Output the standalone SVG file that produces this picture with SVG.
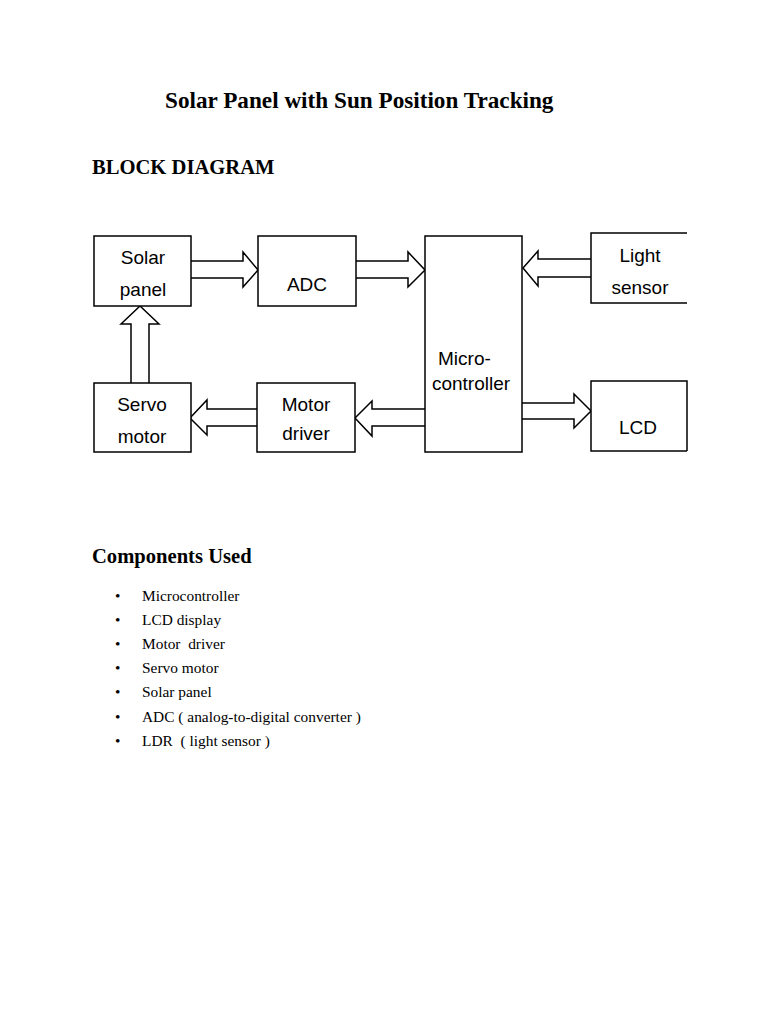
<svg xmlns="http://www.w3.org/2000/svg" width="768" height="1024" viewBox="0 0 768 1024">
<style>
.box{fill:#fff;stroke:#000;stroke-width:1.5}
.arr{fill:#fff;stroke:#000;stroke-width:1.5;stroke-linejoin:miter}
.bt{font-family:"Liberation Sans",Arial,sans-serif;font-size:19px;fill:#000;text-anchor:middle}
.h{font-family:"Liberation Serif","Times New Roman",serif;font-weight:bold;fill:#000}
.li{font-family:"Liberation Serif","Times New Roman",serif;font-size:15.4px;fill:#000}
</style>
<rect width="768" height="1024" fill="#fff"/>
<text class="h" x="165" y="108" font-size="23.2">Solar Panel with Sun Position Tracking</text>
<text class="h" x="92" y="174" font-size="20.6">BLOCK DIAGRAM</text>
<g id="connectors">
<path class="arr" d="M191,261 H243 V252 L258,270 L243,287 V278 H191"/>
<path class="arr" d="M356,261 H408 V252 L425,270 L408,287 V278 H356"/>
<path class="arr" d="M591,259 H538 V251 L523,268 L538,286 V277 H591"/>
<path class="arr" d="M522,403 H574 V394 L591,411 L574,428 V419 H522"/>
<path class="arr" d="M425,409 H372 V401 L355,418 L372,436 V426 H425"/>
<path class="arr" d="M257,409 H207 V400 L190,418 L207,435 V426 H257"/>
<path class="arr" d="M131,383 V324 H121 L140,306 L159,324 H149 V383"/>
</g>
<g id="solar-panel"><rect class="box" x="94" y="236" width="97" height="70"/><text class="bt" x="143" y="264">Solar</text><text class="bt" x="143" y="296">panel</text></g>
<g id="adc"><rect class="box" x="258" y="236" width="98" height="70"/><text class="bt" x="307" y="291">ADC</text></g>
<g id="microcontroller"><rect class="box" x="425" y="236" width="97" height="216"/><text class="bt" x="438" y="365" style="text-anchor:start">Micro-</text><text class="bt" x="471" y="390">controller</text></g>
<g id="light-sensor"><path class="box" d="M687,233 H591 V303 H687"/><text class="bt" x="640" y="262">Light</text><text class="bt" x="640" y="294">sensor</text></g>
<g id="lcd"><path class="box" d="M687,451 H591 V381 H687 V451"/><text class="bt" x="638" y="434">LCD</text></g>
<g id="servo-motor"><rect class="box" x="94" y="383" width="97" height="69"/><text class="bt" x="142" y="411">Servo</text><text class="bt" x="142" y="443">motor</text></g>
<g id="motor-driver"><rect class="box" x="257" y="383" width="98" height="69"/><text class="bt" x="306" y="411">Motor</text><text class="bt" x="306" y="440">driver</text></g>
<text class="h" x="92" y="563" font-size="20.6">Components Used</text>
<g class="li">
<text x="115" y="601">•</text><text x="142" y="601">Microcontroller</text>
<text x="115" y="625">•</text><text x="142" y="625">LCD display</text>
<text x="115" y="649">•</text><text x="142" y="649" xml:space="preserve">Motor  driver</text>
<text x="115" y="673">•</text><text x="142" y="673">Servo motor</text>
<text x="115" y="697">•</text><text x="142" y="697">Solar panel</text>
<text x="115" y="722">•</text><text x="142" y="722">ADC ( analog-to-digital converter )</text>
<text x="115" y="746">•</text><text x="142" y="746" xml:space="preserve">LDR  ( light sensor )</text>
</g>
</svg>
